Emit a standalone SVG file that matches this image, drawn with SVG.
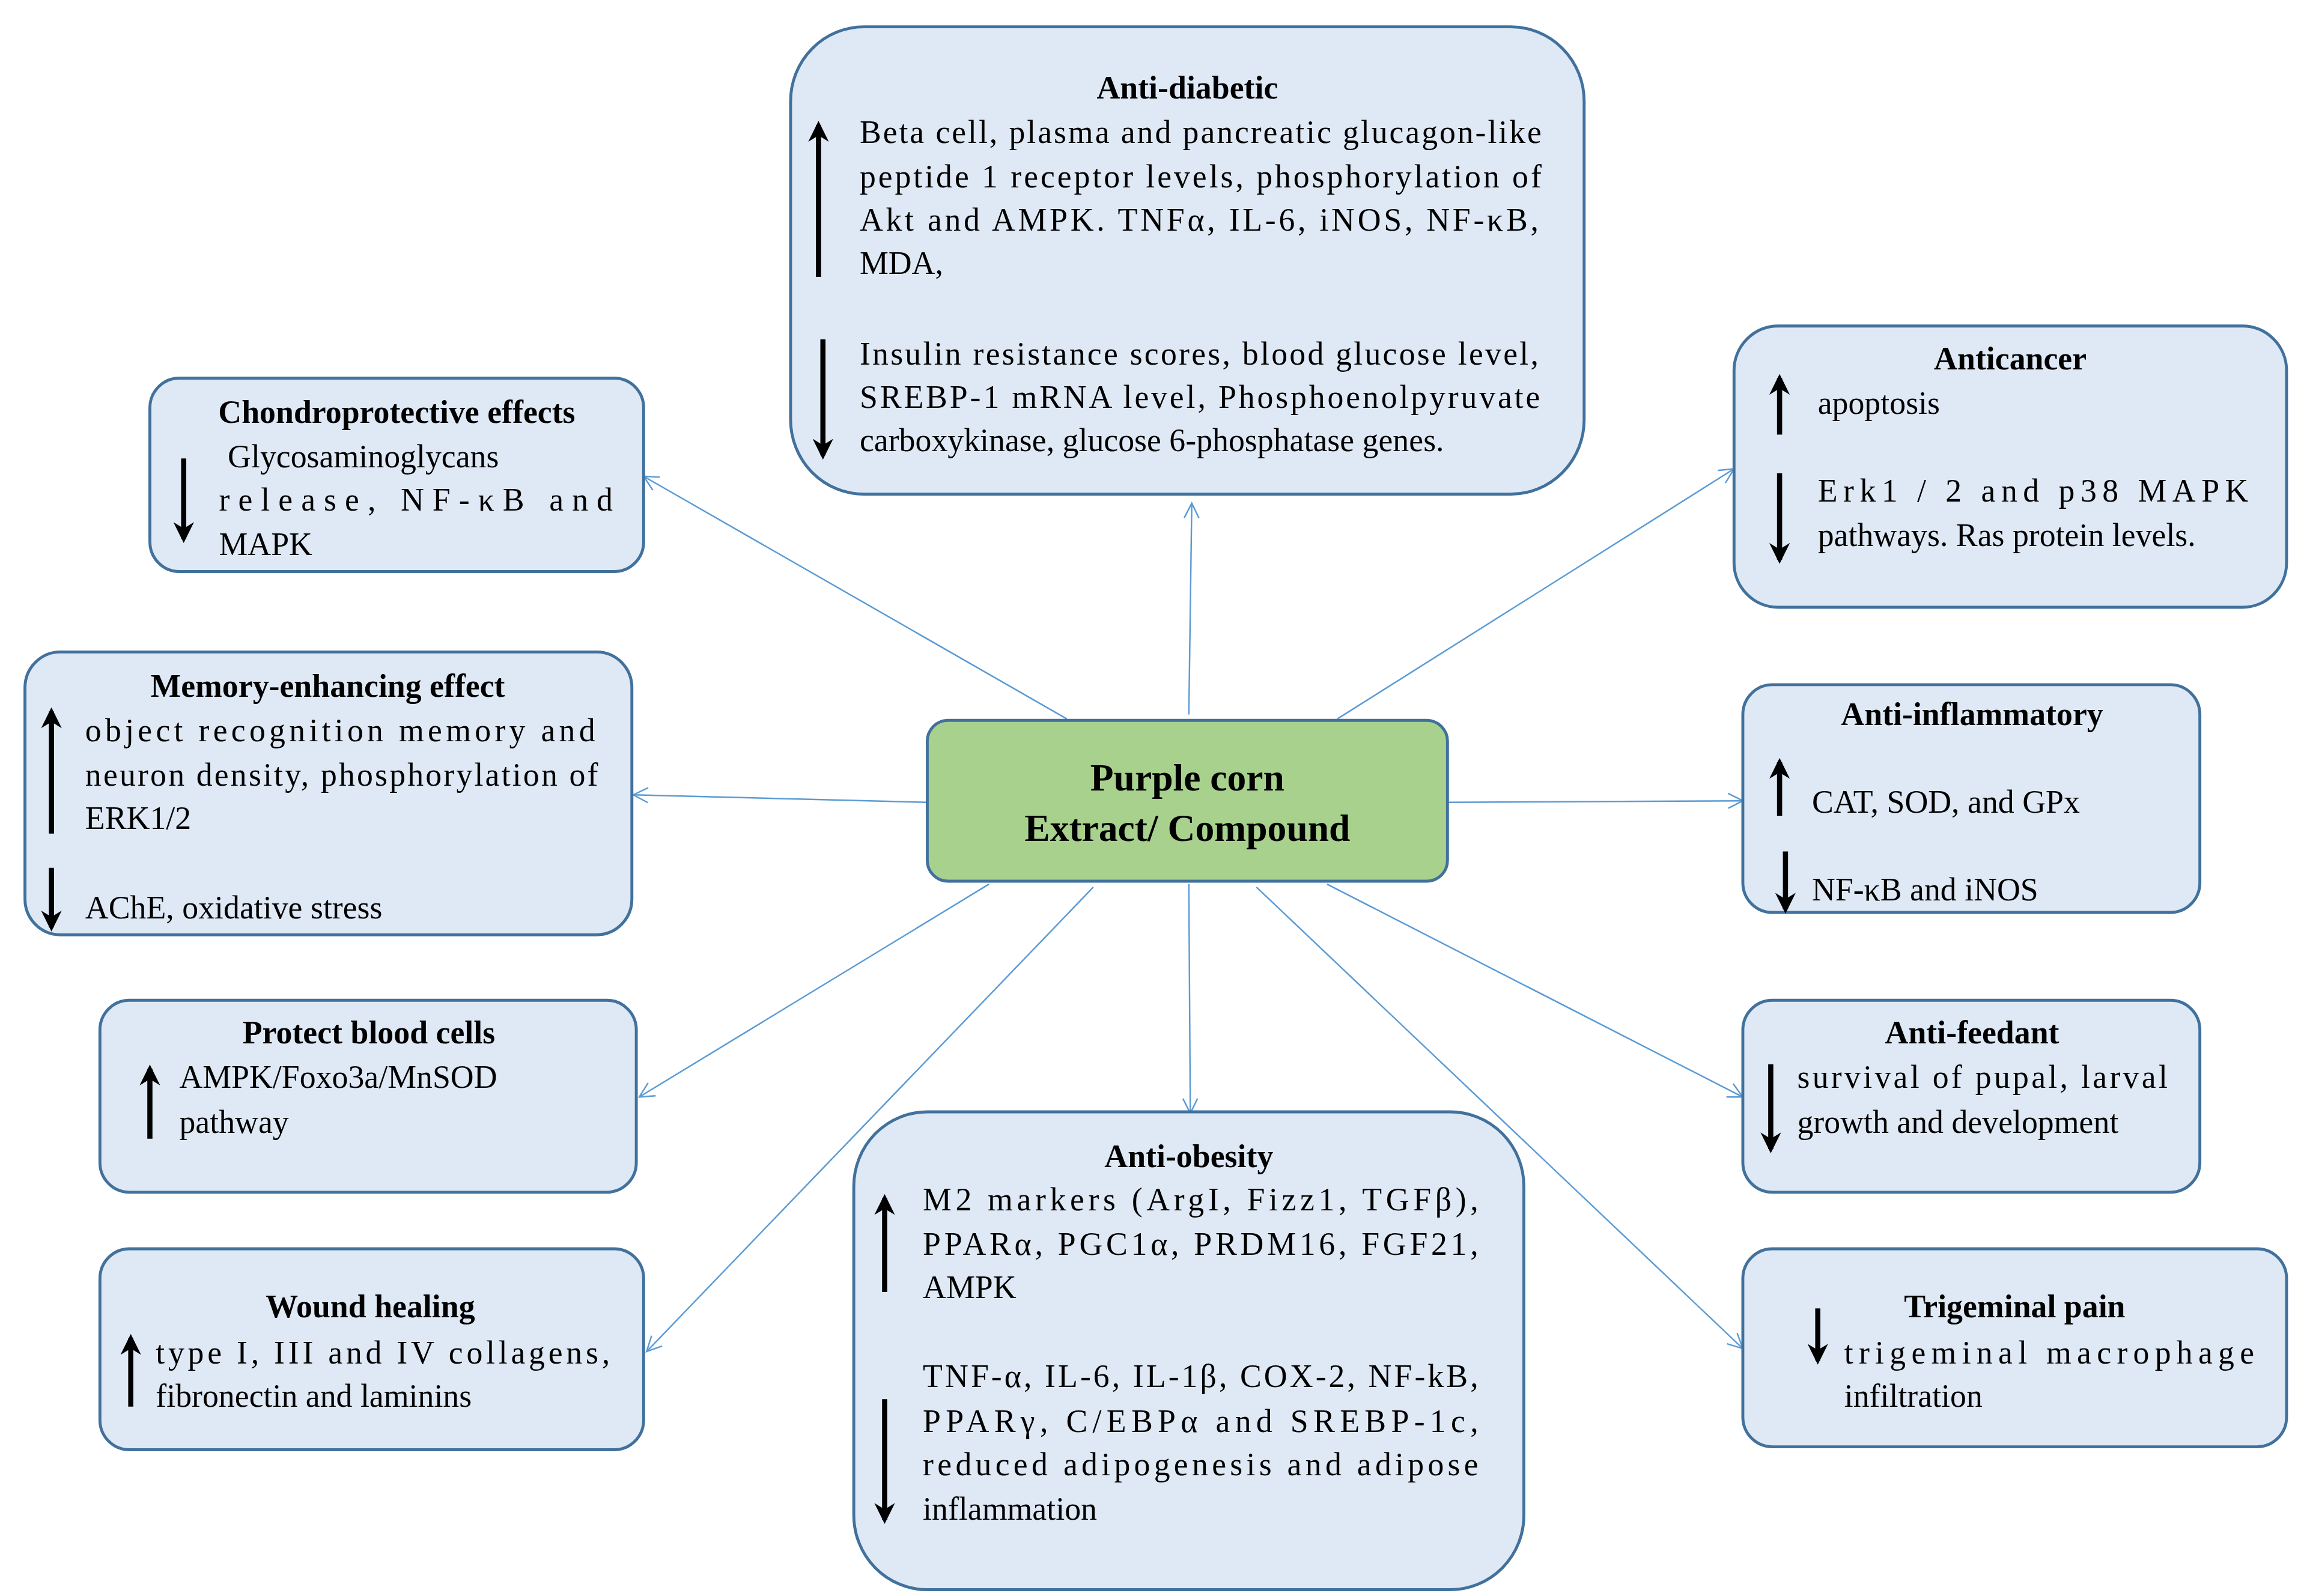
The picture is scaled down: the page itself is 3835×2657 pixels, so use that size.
<svg xmlns="http://www.w3.org/2000/svg" width="3835" height="2657" viewBox="0 0 3835 2657">
<defs>
<style>
.box{fill:#dfe9f5;stroke:#41719c;stroke-width:2}
.t{font-family:"Liberation Serif",serif;font-size:22px;fill:#000}
.h{font-family:"Liberation Serif",serif;font-size:22px;font-weight:bold;text-anchor:middle;fill:#000}
.c{stroke:#5b9bd5;stroke-width:1;fill:none;marker-end:url(#oa)}
.b{stroke:#000;stroke-width:3.5;fill:none;marker-end:url(#ba)}
</style>
<marker id="oa" viewBox="0 0 12 12" refX="11" refY="6" markerWidth="12" markerHeight="12" markerUnits="userSpaceOnUse" orient="auto"><path d="M1,1 L11,6 L1,11" fill="none" stroke="#5b9bd5" stroke-width="1"/></marker>
<marker id="ba" viewBox="0 0 10 10" refX="8" refY="5" markerWidth="4" markerHeight="4" orient="auto"><path d="M0,0 L10,5 L0,10 L3,5 Z" fill="#000"/></marker>
</defs>
<rect width="3835" height="2657" fill="#fff"/>
<g transform="scale(2.446 2.478)">
<g id="connectors">
<line class="c" x1="726" y1="483" x2="438" y2="320"/>
<line class="c" x1="809" y1="480" x2="811" y2="338"/>
<line class="c" x1="910" y1="483" x2="1180" y2="315"/>
<line class="c" x1="631" y1="539" x2="431" y2="534"/>
<line class="c" x1="985" y1="539" x2="1186" y2="538"/>
<line class="c" x1="673" y1="594" x2="435" y2="737"/>
<line class="c" x1="744" y1="596" x2="440" y2="908"/>
<line class="c" x1="809" y1="594" x2="810" y2="748"/>
<line class="c" x1="855" y1="596" x2="1186" y2="906"/>
<line class="c" x1="903" y1="594" x2="1186" y2="737"/>
</g>
<g id="center">
<rect x="631" y="484" width="354" height="108" rx="14" fill="#a9d18e" stroke="#41719c" stroke-width="2"/>
<text class="h" x="808" y="531" style="font-size:26px">Purple corn</text>
<text class="h" x="808" y="565" style="font-size:26px">Extract/ Compound</text>
</g>
<g id="antidiabetic">
<rect class="box" x="538" y="18" width="540" height="314" rx="50"/>
<text class="h" x="808" y="66">Anti-diabetic</text>
<line class="b" x1="557" y1="186" x2="557" y2="84"/>
<line class="b" x1="560" y1="228" x2="560" y2="306"/>
<text class="t" x="585" y="96" textLength="464" lengthAdjust="spacing">Beta cell, plasma and pancreatic glucagon-like</text>
<text class="t" x="585" y="126" textLength="464" lengthAdjust="spacing">peptide 1 receptor levels, phosphorylation of</text>
<text class="t" x="585" y="155" textLength="462" lengthAdjust="spacing">Akt and AMPK. TNFα, IL-6, iNOS, NF-κB,</text>
<text class="t" x="585" y="184">MDA,</text>
<text class="t" x="585" y="245" textLength="462" lengthAdjust="spacing">Insulin resistance scores, blood glucose level,</text>
<text class="t" x="585" y="274" textLength="463" lengthAdjust="spacing">SREBP-1 mRNA level, Phosphoenolpyruvate</text>
<text class="t" x="585" y="303">carboxykinase, glucose 6-phosphatase genes.</text>
</g>
<g id="chondro">
<rect class="box" x="102" y="254" width="336" height="130" rx="20"/>
<text class="h" x="270" y="284">Chondroprotective effects</text>
<line class="b" x1="125" y1="308" x2="125" y2="362"/>
<text class="t" x="155" y="314">Glycosaminoglycans</text>
<text class="t" x="149" y="343" textLength="268" lengthAdjust="spacing">release,   NF-κB   and</text>
<text class="t" x="149" y="373">MAPK</text>
</g>
<g id="anticancer">
<rect class="box" x="1180" y="219" width="376" height="189" rx="30"/>
<text class="h" x="1368" y="248">Anticancer</text>
<line class="b" x1="1211" y1="292" x2="1211" y2="254"/>
<line class="b" x1="1211" y1="318" x2="1211" y2="376"/>
<text class="t" x="1237" y="278">apoptosis</text>
<text class="t" x="1237" y="337" textLength="293" lengthAdjust="spacing">Erk1 / 2 and p38 MAPK</text>
<text class="t" x="1237" y="367">pathways. Ras protein levels.</text>
</g>
<g id="memory">
<rect class="box" x="17" y="438" width="413" height="190" rx="24"/>
<text class="h" x="223" y="468">Memory-enhancing effect</text>
<line class="b" x1="35" y1="560" x2="35" y2="478"/>
<line class="b" x1="35" y1="583" x2="35" y2="623"/>
<text class="t" x="58" y="498" textLength="347" lengthAdjust="spacing">object recognition memory and</text>
<text class="t" x="58" y="528" textLength="349" lengthAdjust="spacing">neuron density, phosphorylation of</text>
<text class="t" x="58" y="557">ERK1/2</text>
<text class="t" x="58" y="617">AChE, oxidative stress</text>
</g>
<g id="antiinflammatory">
<rect class="box" x="1186" y="460" width="311" height="153" rx="20"/>
<text class="h" x="1342" y="487">Anti-inflammatory</text>
<line class="b" x1="1211" y1="548" x2="1211" y2="512"/>
<line class="b" x1="1215" y1="572" x2="1215" y2="611"/>
<text class="t" x="1233" y="546">CAT, SOD, and GPx</text>
<text class="t" x="1233" y="605">NF-κB and iNOS</text>
</g>
<g id="blood">
<rect class="box" x="68" y="672" width="365" height="129" rx="20"/>
<text class="h" x="251" y="701">Protect blood cells</text>
<line class="b" x1="102" y1="765" x2="102" y2="718"/>
<text class="t" x="122" y="731">AMPK/Foxo3a/MnSOD</text>
<text class="t" x="122" y="761">pathway</text>
</g>
<g id="antifeedant">
<rect class="box" x="1186" y="672" width="311" height="129" rx="20"/>
<text class="h" x="1342" y="701">Anti-feedant</text>
<line class="b" x1="1205" y1="715" x2="1205" y2="772"/>
<text class="t" x="1223" y="731" textLength="252" lengthAdjust="spacing">survival of pupal, larval</text>
<text class="t" x="1223" y="761">growth and development</text>
</g>
<g id="wound">
<rect class="box" x="68" y="839" width="370" height="135" rx="20"/>
<text class="h" x="252" y="885">Wound healing</text>
<line class="b" x1="89" y1="945" x2="89" y2="899"/>
<text class="t" x="106" y="916" textLength="309" lengthAdjust="spacing">type I, III and IV collagens,</text>
<text class="t" x="106" y="945">fibronectin and laminins</text>
</g>
<g id="antiobesity">
<rect class="box" x="581" y="747" width="456" height="321" rx="50"/>
<text class="h" x="809" y="784">Anti-obesity</text>
<line class="b" x1="602" y1="868" x2="602" y2="805"/>
<line class="b" x1="602" y1="940" x2="602" y2="1021"/>
<text class="t" x="628" y="813" textLength="378" lengthAdjust="spacing">M2 markers (ArgI, Fizz1, TGFβ),</text>
<text class="t" x="628" y="843" textLength="378" lengthAdjust="spacing">PPARα, PGC1α, PRDM16, FGF21,</text>
<text class="t" x="628" y="872">AMPK</text>
<text class="t" x="628" y="932" textLength="378" lengthAdjust="spacing">TNF-α, IL-6, IL-1β, COX-2, NF-kB,</text>
<text class="t" x="628" y="962" textLength="378" lengthAdjust="spacing">PPARγ, C/EBPα and SREBP-1c,</text>
<text class="t" x="628" y="991" textLength="378" lengthAdjust="spacing">reduced adipogenesis and adipose</text>
<text class="t" x="628" y="1021">inflammation</text>
</g>
<g id="trigeminal">
<rect class="box" x="1186" y="839" width="370" height="133" rx="20"/>
<text class="h" x="1371" y="885">Trigeminal pain</text>
<line class="b" x1="1237" y1="879" x2="1237" y2="914"/>
<text class="t" x="1255" y="916" textLength="279" lengthAdjust="spacing">trigeminal          macrophage</text>
<text class="t" x="1255" y="945">infiltration</text>
</g>
</g>
</svg>
